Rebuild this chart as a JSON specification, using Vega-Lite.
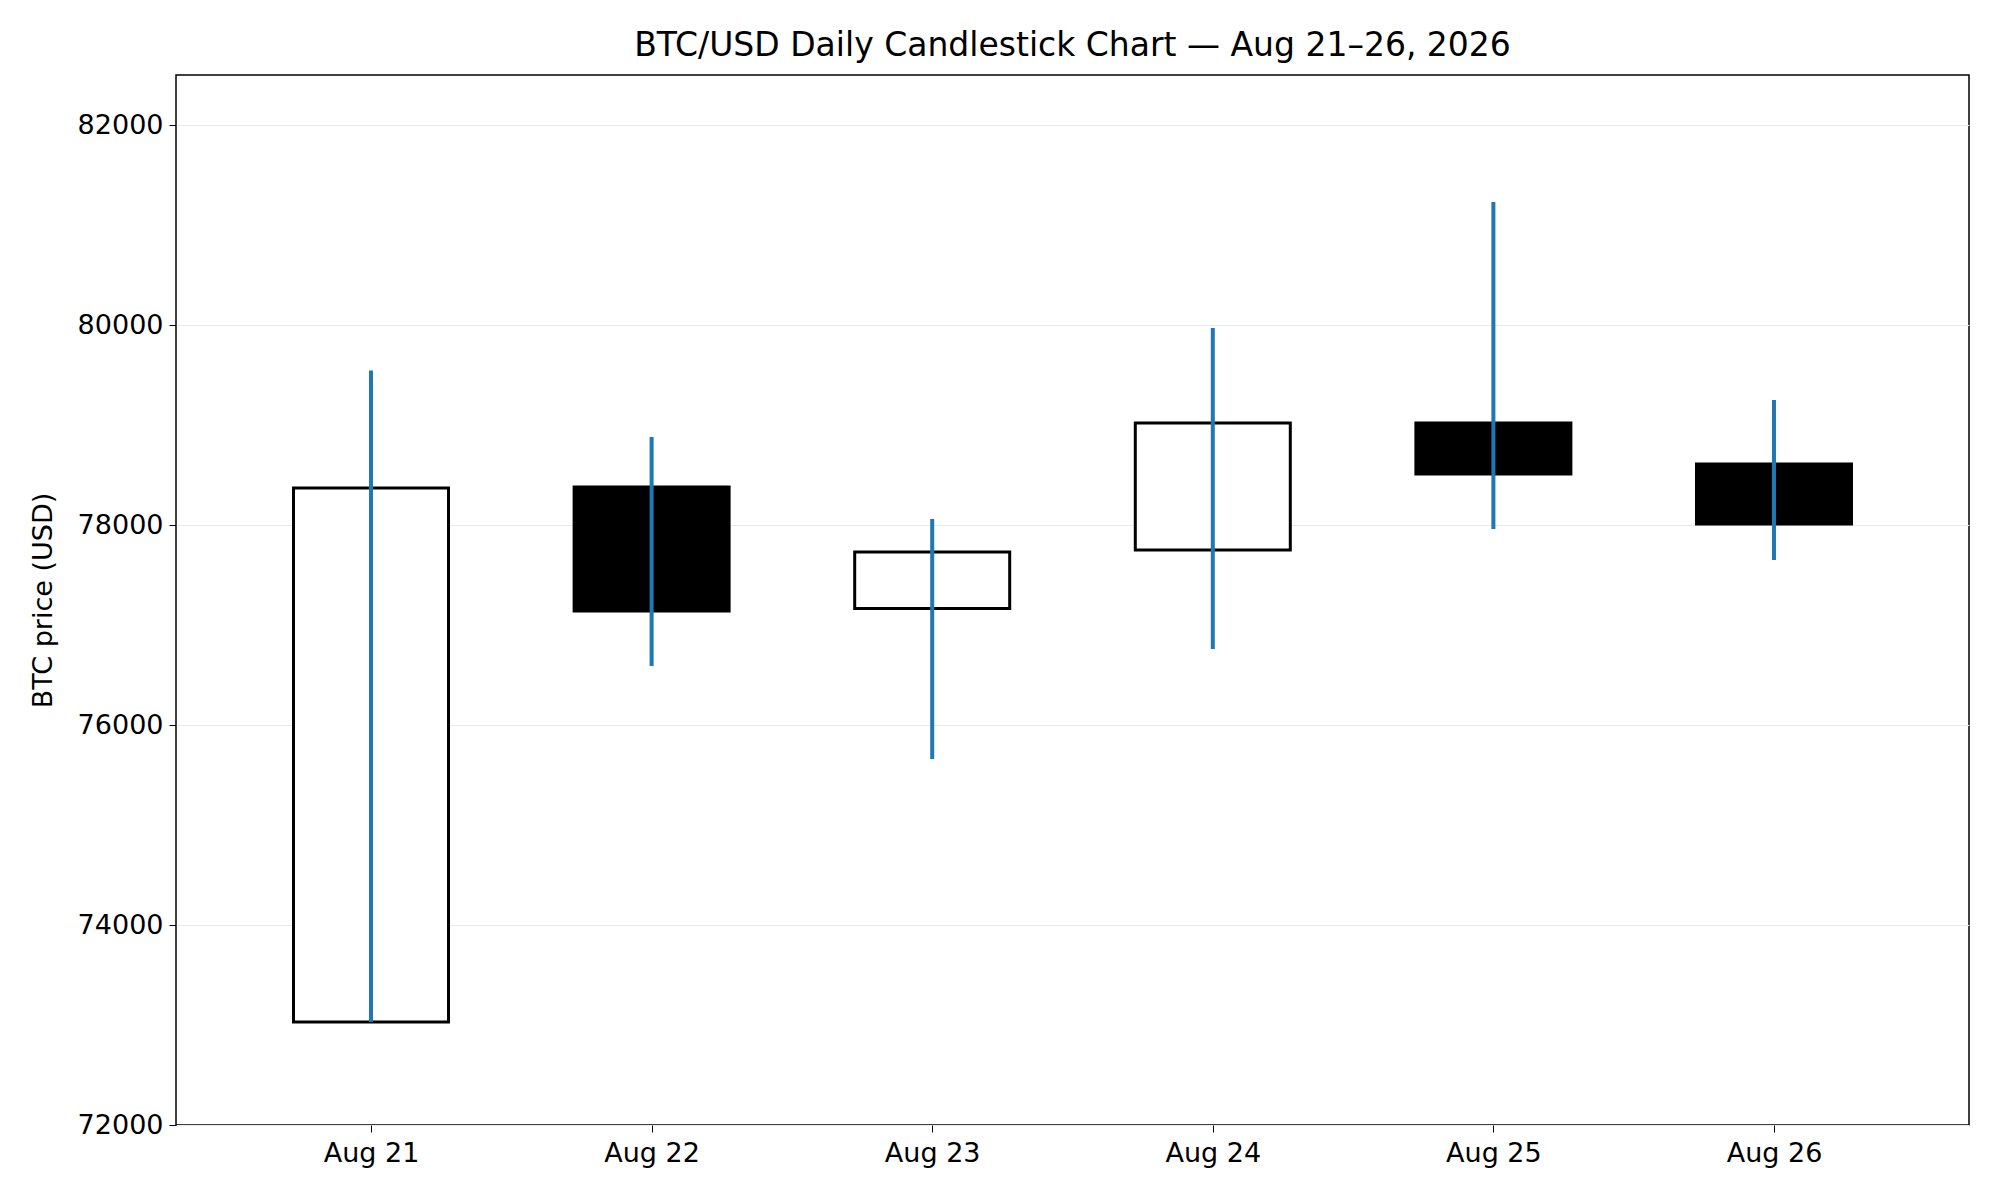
{
  "$schema": "https://vega.github.io/schema/vega-lite/v6.json",
  "autosize": "none",
  "padding": {"left": 176, "top": 75, "right": 25, "bottom": 75},
  "width": 1793,
  "height": 1050,
  "background": "white",
  "title": {"text": "BTC/USD Daily Candlestick Chart — Aug 21–26, 2026", "fontSize": 33, "fontWeight": "normal", "font": "DejaVu Sans", "color": "black", "offset": 12},
  "config": {
    "view": {"stroke": "black", "strokeWidth": 1.5},
    "axis": {"labelFont": "DejaVu Sans", "titleFont": "DejaVu Sans", "labelFontSize": 27, "titleFontSize": 27, "titleFontWeight": "normal", "labelColor": "black", "titleColor": "black", "tickColor": "black", "tickSize": 7, "domain": false}
  },
  "data": {"values": [
    {"date": "Aug 21", "open": 73030, "close": 78370, "high": 79545, "low": 73030},
    {"date": "Aug 22", "open": 78380, "close": 77140, "high": 78880, "low": 76590},
    {"date": "Aug 23", "open": 77166, "close": 77730, "high": 78060, "low": 75660},
    {"date": "Aug 24", "open": 77750, "close": 79020, "high": 79970, "low": 76760},
    {"date": "Aug 25", "open": 79020, "close": 78510, "high": 81230, "low": 77960},
    {"date": "Aug 26", "open": 78610, "close": 78010, "high": 79250, "low": 77650}
  ]},
  "encoding": {
    "x": {"field": "date", "type": "ordinal", "scale": {"type": "point", "padding": 0.695}, "axis": {"title": null, "labelAngle": 0, "grid": false, "labelPadding": 8}}
  },
  "layer": [
    {
      "mark": {"type": "bar", "size": 155, "stroke": "black", "strokeWidth": 3},
      "encoding": {
        "y": {"field": "open", "type": "quantitative", "scale": {"domain": [72000, 82500], "nice": false}, "axis": {"title": "BTC price (USD)", "format": "d", "values": [72000, 74000, 76000, 78000, 80000, 82000], "grid": true, "gridColor": "#ebebeb", "gridWidth": 1.2, "titlePadding": 20, "labelPadding": 6}},
        "y2": {"field": "close"},
        "fill": {"condition": {"test": "datum.close >= datum.open", "value": "white"}, "value": "black"}
      }
    },
    {
      "mark": {"type": "rule", "color": "#1f77b4", "strokeWidth": 4},
      "encoding": {
        "y": {"field": "low", "type": "quantitative"},
        "y2": {"field": "high"}
      }
    }
  ]
}
